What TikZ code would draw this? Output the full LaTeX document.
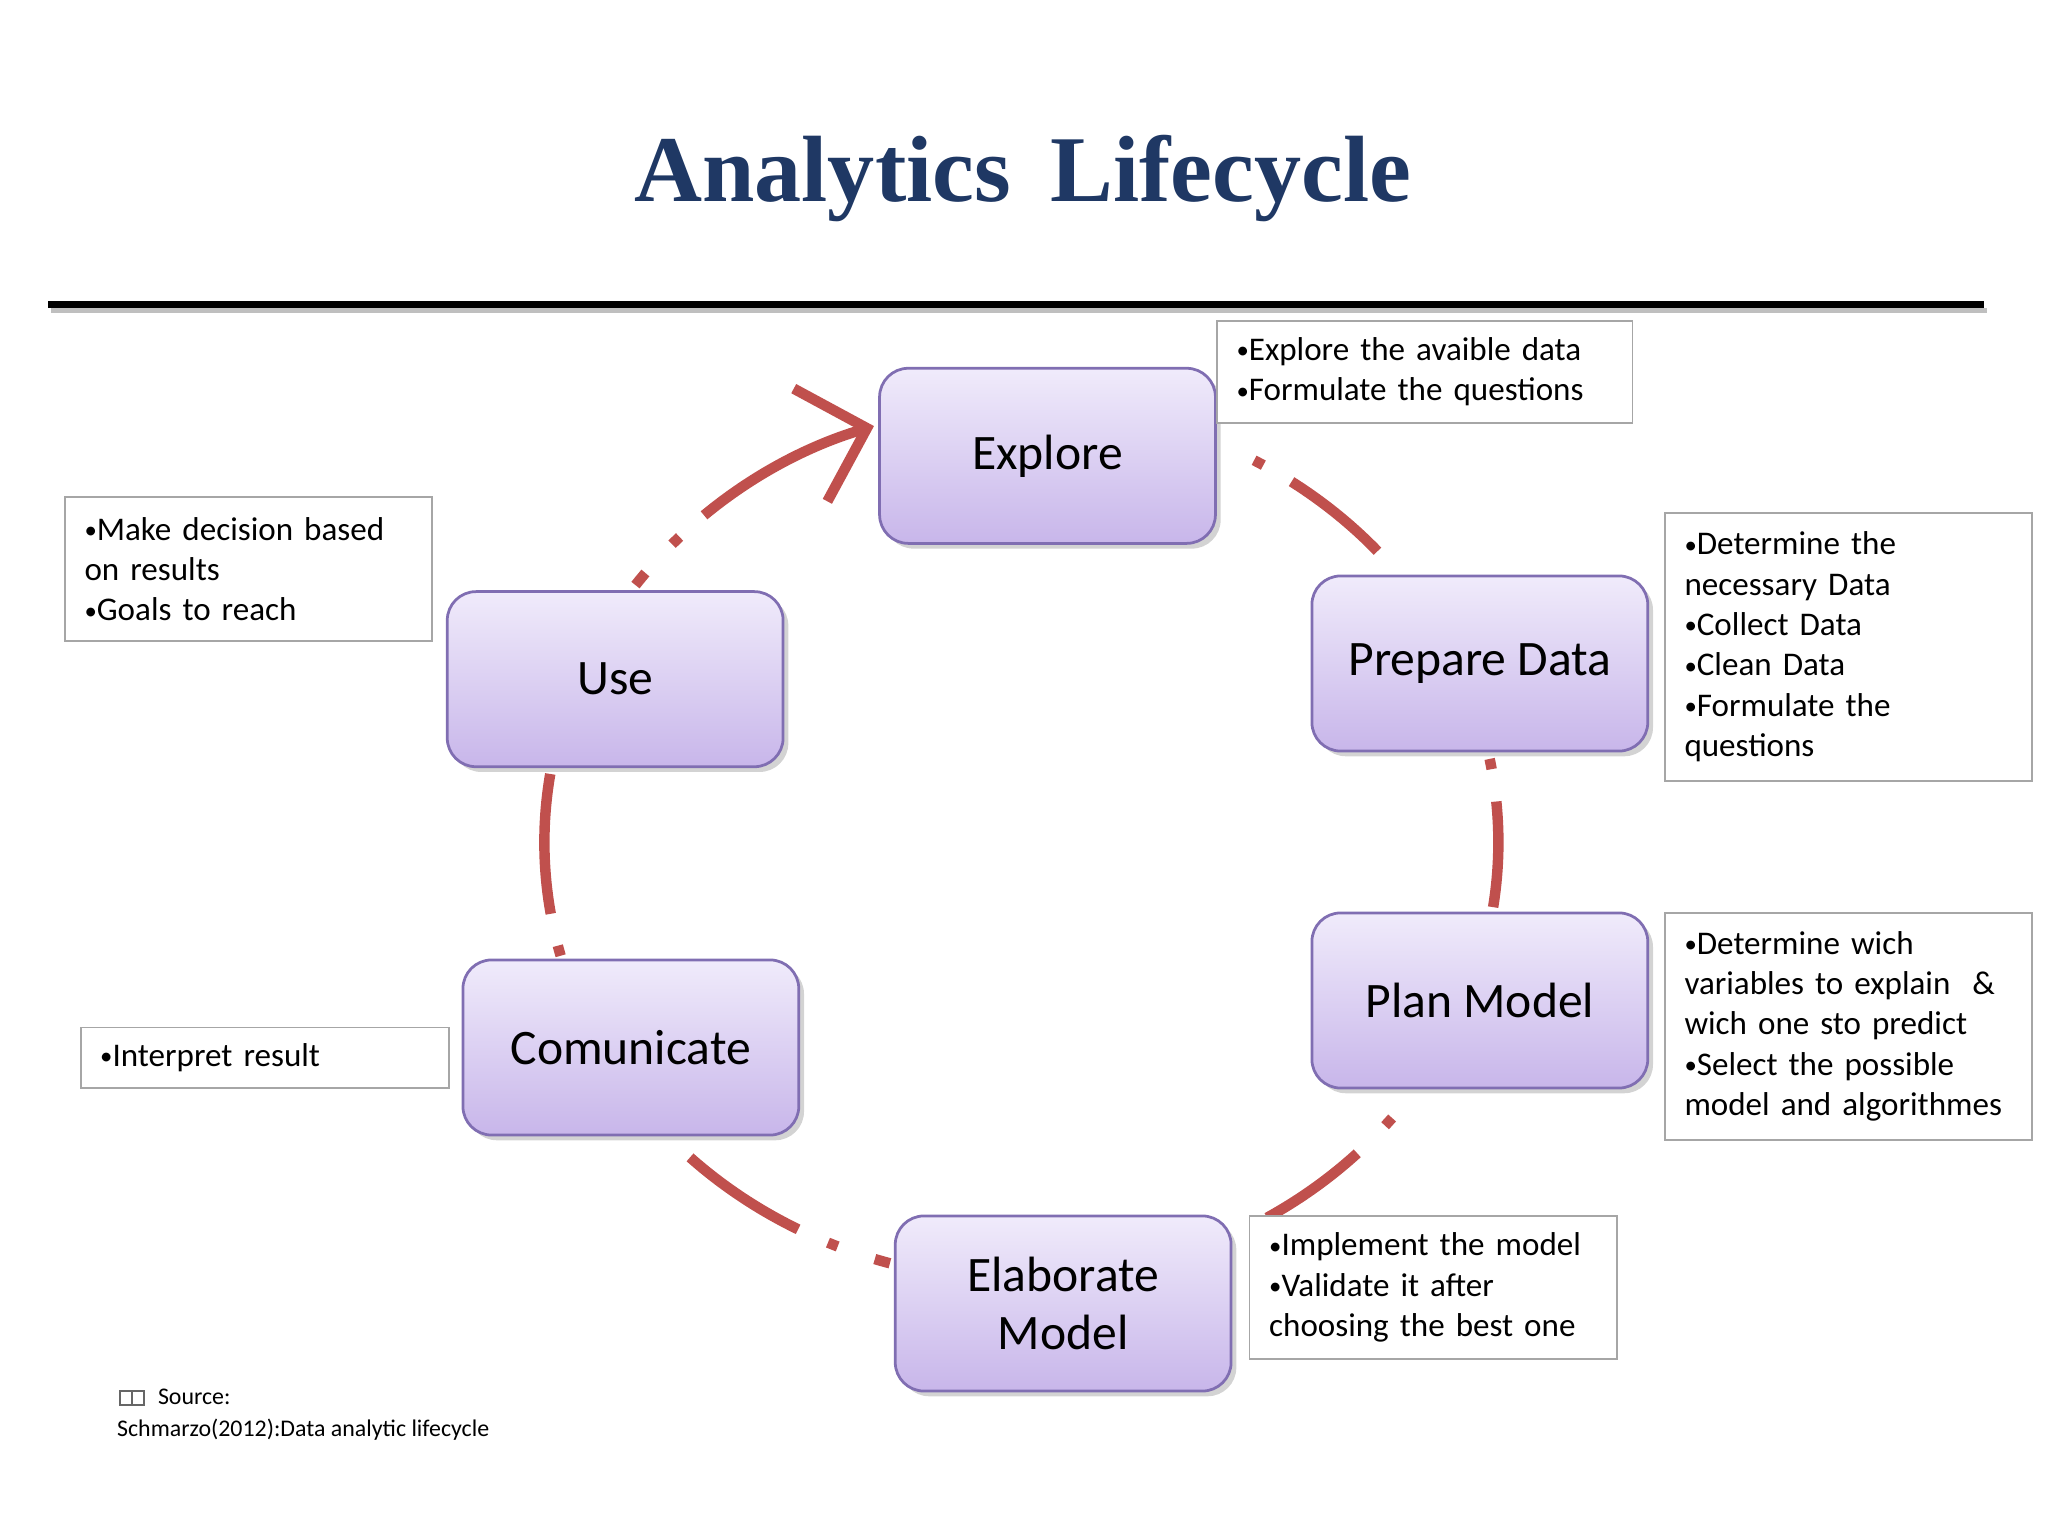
\documentclass[tikz,border=0pt]{standalone}
\usepackage{fontspec}
\setmainfont{Carlito}
\newfontfamily\ttlfont{Liberation Serif}
\usetikzlibrary{arrows.meta,shadows,calc}
\definecolor{boxtop}{RGB}{240,235,251}
\definecolor{boxbot}{RGB}{200,182,234}
\definecolor{boxline}{RGB}{128,110,178}
\definecolor{cycred}{RGB}{192,80,77}
\newcommand{\bul}{{\raisebox{0.1ex}{\scalebox{0.75}{•}}}}
\begin{document}
\begin{tikzpicture}[x=0.01cm,y=-0.01cm,
  stage/.style={draw=boxline, line width=0.6pt, rounded corners=0.22cm, minimum width=2.57cm, minimum height=1.34cm,
    top color=boxtop, bottom color=boxbot, align=center, font=\fontsize{10.8}{12.5}\selectfont,
    drop shadow={shadow xshift=0.04cm,shadow yshift=-0.04cm,opacity=0.35}},
  note/.style={draw=gray!70, line width=0.4pt, fill=white, anchor=north west, align=left, inner xsep=0.15cm, inner ysep=0.08cm,
    font=\fontsize{7.2}{8.8}\selectfont},
  ell/.style={x radius=3.65cm,y radius=3.35cm},
  cyc/.style={draw=cycred, line width=0.08cm, dash pattern=on 0.08cm off 0.25cm on 3cm off 0.25cm}]
\useasboundingbox (0,0) rectangle (1568,1176);
\node[font=\ttlfont\bfseries\fontsize{20.5}{24}\selectfont, text={rgb,255:red,31;green,56;blue,100}] (title) at (783,137) {Analytics\, Lifecycle};
\fill[gray!50] (39,236) rectangle (1521,240);
\draw[line width=0.05cm] (37,233) -- (1519,233);
\coordinate (c) at (782,645);
% cycle
\draw[cyc] ($(c)+(60.8:3.65cm and 3.35cm)$) arc[start angle=60.8,end angle=41.7,ell];
\draw[cyc] ($(c)+(11:3.65cm and 3.35cm)$) arc[start angle=11,end angle=-8.5,ell];
\draw[cyc, dash pattern=on 0.08cm off 0.3cm on 0.85cm off 0.35cm on 0.3cm off 1cm] ($(c)+(-39:3.65cm and 3.35cm)$) arc[start angle=-39,end angle=-65,ell];
\draw[cyc, dash pattern=on 0.12cm off 0.3cm on 0.08cm off 0.25cm on 3cm off 1cm] ($(c)+(-106:3.65cm and 3.35cm)$) arc[start angle=-106,end angle=-134,ell];
\draw[cyc] ($(c)+(-165:3.65cm and 3.35cm)$) arc[start angle=-165,end angle=-189,ell];
\draw[cyc, dash pattern=on 0.12cm off 0.3cm on 0.08cm off 0.25cm on 3cm off 1cm, -{Straight Barb[length=0.45cm,width=0.9cm]}] ($(c)+(144:3.65cm and 3.35cm)$) arc[start angle=144,end angle=108,ell];
% stages
\node[stage] (explore) at (802,349) {Explore};
\node[stage] (prep) at (1133,508) {Prepare Data};
\node[stage] (plan) at (1133,766) {Plan Model};
\node[stage] (elab) at (814,998) {Elaborate\\Model};
\node[stage] (comm) at (483,802) {Comunicate};
\node[stage] (use) at (471,520) {Use};
% notes
\node[note, text width=2.88cm, minimum height=0.78cm] (n1) at (931,245) {\bul Explore the avaible data\\\bul Formulate the questions};
\node[note, text width=2.51cm, minimum height=2.05cm] (n2) at (1274,392) {\bul Determine the\\necessary Data\\\bul Collect Data\\\bul Clean Data\\\bul Formulate the\\questions};
\node[note, text width=2.51cm, minimum height=1.74cm] (n3) at (1274,698) {\bul Determine wich\\variables to explain\ \ \&\\wich one sto predict\\\bul Select the possible\\model and algorithmes};
\node[note, text width=2.51cm, minimum height=1.10cm] (n4) at (956,930) {\bul Implement the model\\\bul Validate it after\\choosing the best one};
\node[note, text width=2.51cm, minimum height=1.10cm] (n5) at (49,380) {\bul Make decision based\\on results\\\bul Goals to reach};
\node[note, text width=2.52cm, minimum height=0.46cm] (n6) at (61,786) {\bul Interpret result};
% source
\node[anchor=north west, align=left, inner sep=0, font=\fontsize{5.2}{7}\selectfont] (src) at (89,1063) {\phantom{MM}Source:\\Schmarzo(2012):Data analytic lifecycle};
\draw[gray!80!black, line width=0.4pt] (92,1065) rectangle (101,1076) (101,1065) rectangle (110,1076);
\end{tikzpicture}
\end{document}
